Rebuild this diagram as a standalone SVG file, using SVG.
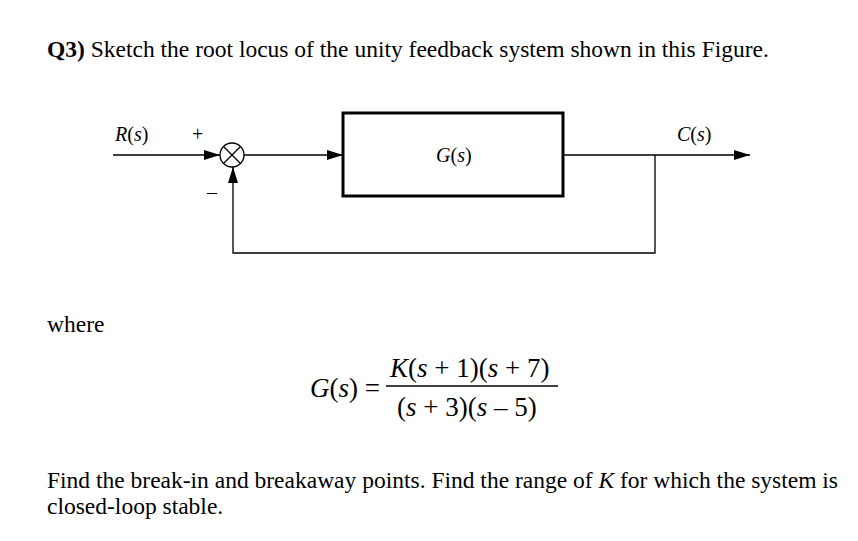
<svg xmlns="http://www.w3.org/2000/svg" width="858" height="541" viewBox="0 0 858 541">
<style>
.t{font-family:"Liberation Serif","Times New Roman",serif;font-size:23.5px;fill:#000}
.l{font-family:"Liberation Serif","Times New Roman",serif;font-size:20px;fill:#000}
.m{font-family:"Liberation Serif","Times New Roman",serif;font-size:27px;fill:#000}
.w{stroke:#000;stroke-width:1.3;fill:none}
</style>
<defs><marker id="a" markerWidth="16" markerHeight="10" refX="16" refY="5" orient="auto" markerUnits="userSpaceOnUse"><path d="M0,0L16,5L0,10z" fill="#000"/></marker></defs>
<rect width="858" height="541" fill="#fff"/>
<text class="t" x="47" y="57"><tspan font-weight="bold">Q3)</tspan> Sketch the root locus of the unity feedback system shown in this Figure.</text>
<g id="sum"><circle class="w" cx="232" cy="155" r="12"/><path class="w" d="M223.5,146.5L240.5,163.5M240.5,146.5L223.5,163.5"/></g>
<g id="G"><rect x="343" y="113" width="220" height="83" fill="none" stroke="#000" stroke-width="3"/><text class="l" x="436" y="162"><tspan font-style="italic">G</tspan>(<tspan font-style="italic">s</tspan>)</text></g>
<g id="connectors">
<path class="w" d="M113,155H220" marker-end="url(#a)"/>
<path class="w" d="M244,155H343" marker-end="url(#a)"/>
<path class="w" d="M563,155H750" marker-end="url(#a)"/>
<path class="w" d="M655,155V253H233V167" marker-end="url(#a)"/>
</g>
<text class="l" x="115" y="141"><tspan font-style="italic">R</tspan>(<tspan font-style="italic">s</tspan>)</text>
<text class="l" x="192" y="141">+</text>
<text class="l" x="207" y="199">–</text>
<text class="l" x="677" y="141"><tspan font-style="italic">C</tspan>(<tspan font-style="italic">s</tspan>)</text>
<text class="t" x="47" y="332">where</text>
<text class="m" x="310" y="397"><tspan font-style="italic">G</tspan>(<tspan font-style="italic">s</tspan>) =</text>
<line x1="386" y1="386" x2="558" y2="386" stroke="#000" stroke-width="1.5"/>
<text class="m" x="390" y="377"><tspan font-style="italic">K</tspan>(<tspan font-style="italic">s</tspan> + 1)(<tspan font-style="italic">s</tspan> + 7)</text>
<text class="m" x="397" y="416">(<tspan font-style="italic">s</tspan> + 3)(<tspan font-style="italic">s</tspan> – 5)</text>
<text class="t" x="47" y="488">Find the break-in and breakaway points. Find the range of <tspan font-style="italic">K</tspan> for which the system is</text>
<text class="t" x="47" y="514">closed-loop stable.</text>
</svg>
